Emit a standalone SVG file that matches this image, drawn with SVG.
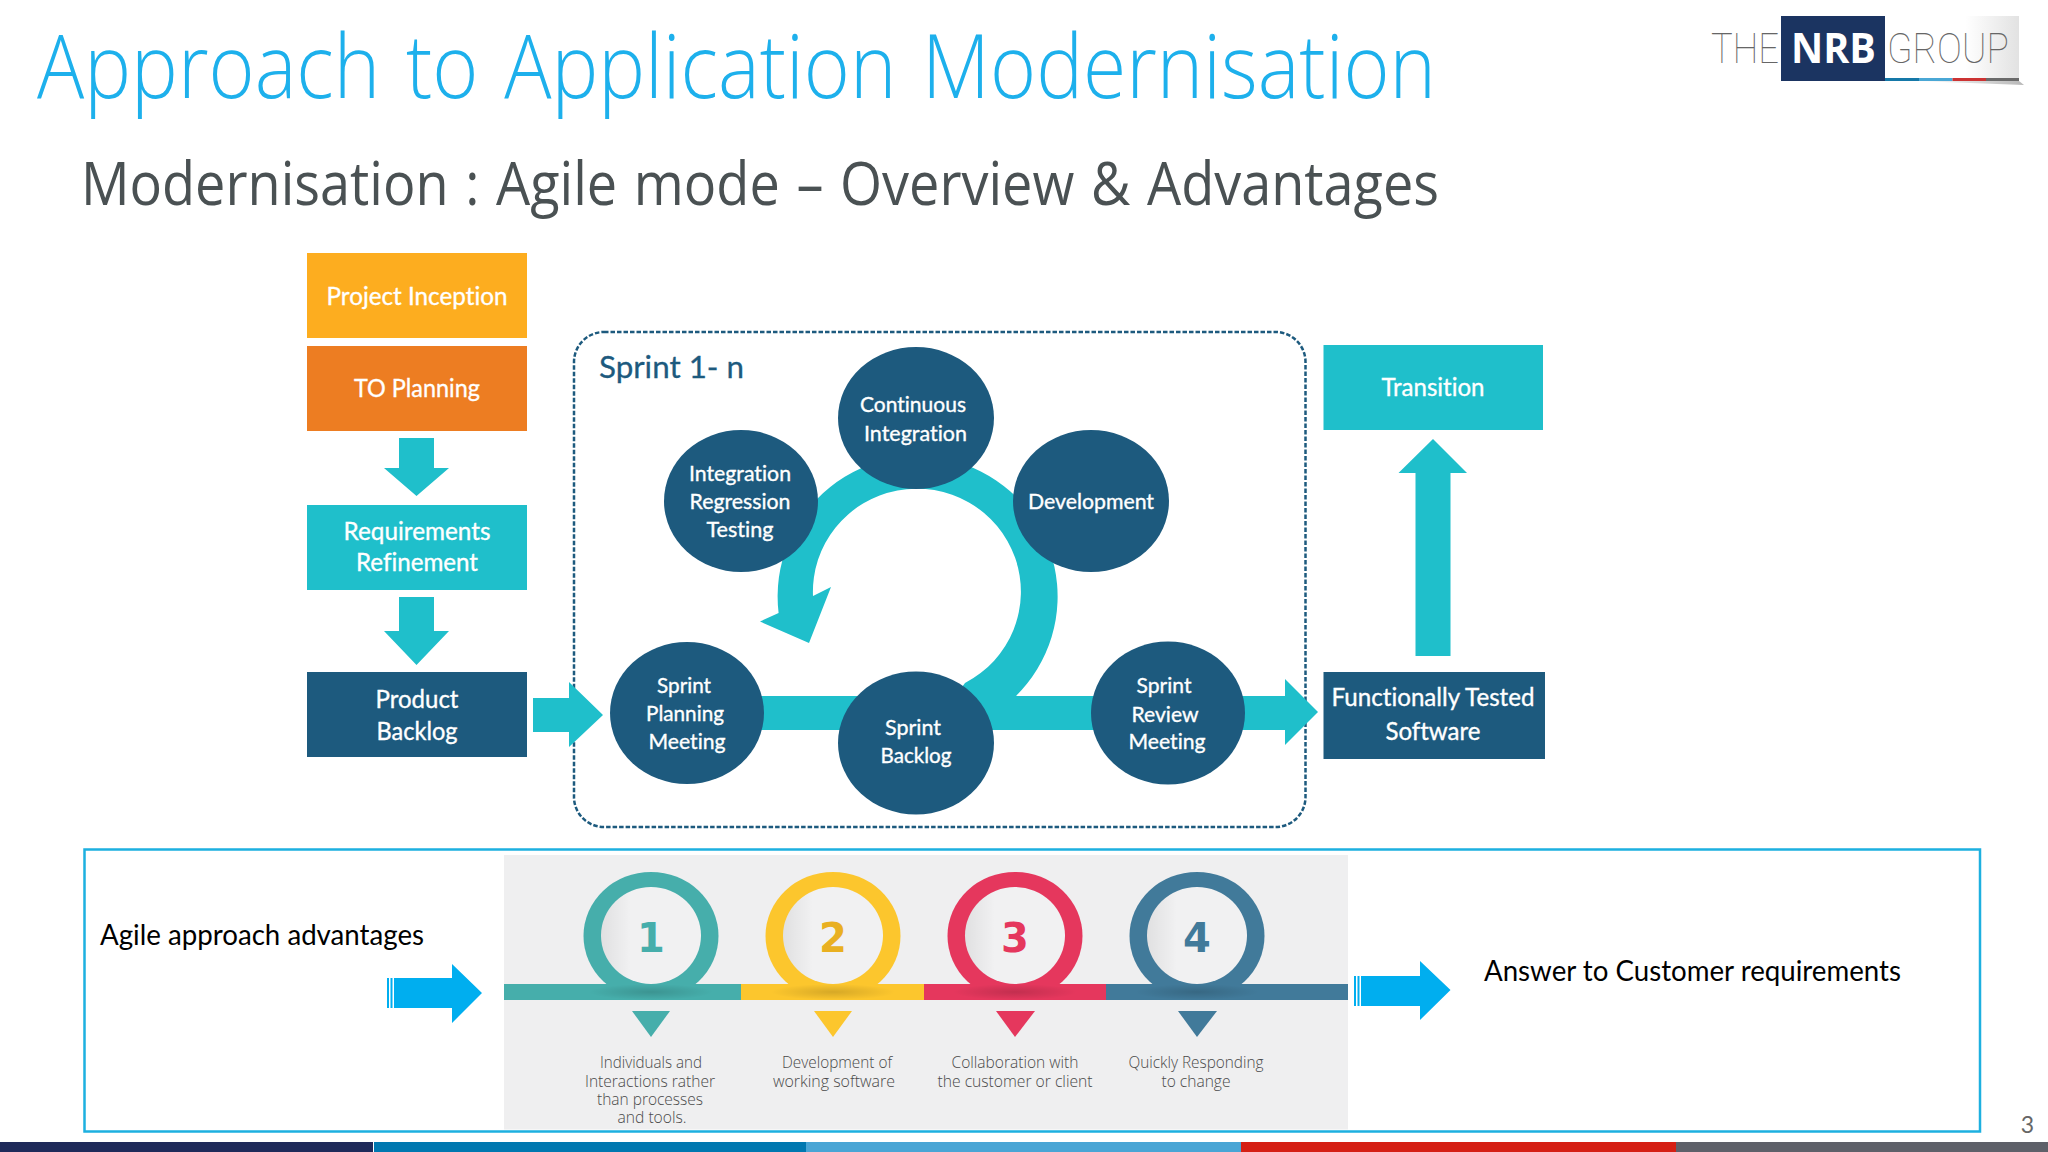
<svg xmlns="http://www.w3.org/2000/svg" width="2048" height="1152" viewBox="0 0 2048 1152">
<style>
text{font-family:"Lato","Open Sans","Liberation Sans",sans-serif;font-variant-ligatures:none}
.w{fill:#fff;text-anchor:middle;stroke:#fff;stroke-width:0.35px}
.b{font-size:25px}
.c{font-size:22px}
.teal{fill:#1FBFCB}
.navy{fill:#1D5A7E}
.cap{font-size:16px;fill:#4A4A4A;text-anchor:middle;font-family:"Open Sans","Liberation Sans",sans-serif;font-weight:300}
.num{font-size:40px;font-weight:700;text-anchor:middle;font-family:"DejaVu Sans","Open Sans",sans-serif}
.inner{fill:#F1F1F2}
.blk{font-size:29px;fill:#000}
.lg{font-size:42px;fill:#666;font-family:"Roboto","Lato",sans-serif;font-weight:100}
.head{font-family:"Open Sans","Liberation Sans",sans-serif}
</style>
<defs>
<linearGradient id="lg" x1="0" x2="1" y1="0" y2="0"><stop offset="0" stop-color="#fff"/><stop offset="0.6" stop-color="#fff"/><stop offset="1" stop-color="#E2E2E2"/></linearGradient>
<linearGradient id="sh" x1="0" x2="1" y1="0" y2="0"><stop offset="0" stop-color="#000" stop-opacity="0.07"/><stop offset="0.3" stop-color="#000" stop-opacity="0"/></linearGradient>
<radialGradient id="bs" cx="0.5" cy="0.5" r="0.5"><stop offset="0" stop-color="#000" stop-opacity="0.15"/><stop offset="1" stop-color="#000" stop-opacity="0"/></radialGradient>
<linearGradient id="ls" x1="0" x2="1" y1="0" y2="0"><stop offset="0" stop-color="#999" stop-opacity="0"/><stop offset="1" stop-color="#888" stop-opacity="0.6"/></linearGradient>
</defs>
<rect width="2048" height="1152" fill="#fff"/>

<text class="head" x="37" y="97.500" font-size="88" font-weight="300" fill="#1DB0EC" word-spacing="6" textLength="1399" lengthAdjust="spacingAndGlyphs">Approach to Application Modernisation</text>
<text class="head" x="81" y="205" font-size="61" fill="#4A5153" word-spacing="3" textLength="1358" lengthAdjust="spacingAndGlyphs">Modernisation : Agile mode – Overview &amp; Advantages</text>

<g id="logo">
<polygon points="1915,81 2019,81 2024,85" fill="url(#ls)"/>
<rect x="1885" y="16" width="134" height="65" fill="url(#lg)"/>
<rect x="1781" y="16" width="104" height="65" fill="#1B3461"/>
<rect x="1885" y="78" width="34" height="3" fill="#1578A8"/>
<rect x="1919" y="78" width="33.500" height="3" fill="#4AA7D5"/>
<rect x="1952.500" y="78" width="33.500" height="3" fill="#CC3333"/>
<rect x="1986" y="78" width="33" height="3" fill="#6A6A6A"/>
<text class="lg" x="1711" y="63" textLength="68" lengthAdjust="spacingAndGlyphs">THE</text>
<text x="1791" y="63" font-size="42" font-weight="700" fill="#fff" textLength="85" lengthAdjust="spacingAndGlyphs" style="font-family:'Open Sans','Liberation Sans',sans-serif">NRB</text>
<text class="lg" x="1887" y="63" textLength="122" lengthAdjust="spacingAndGlyphs">GROUP</text>
</g>

<g id="sprint-frame">
<rect x="574" y="332" width="731.500" height="495" rx="30" ry="30" fill="#fff" stroke="#1D5A7E" stroke-width="2.500" stroke-dasharray="4.500 2"/>
<text x="599" y="378" font-size="31" fill="#1D5A7E" stroke="#1D5A7E" stroke-width="0.3" textLength="145" lengthAdjust="spacingAndGlyphs">Sprint 1- n</text>
</g>

<g id="connectors">
<polygon class="teal" points="399,438 434,438 434,468 449,468 416.500,496 384,468 399,468"/>
<polygon class="teal" points="399,597 434,597 434,631 449,631 416.500,665 384,631 399,631"/>
<polygon class="teal" points="533,698 569,698 569,682 603,715 569,747 569,732 533,732"/>
<polygon class="teal" points="687,696 1285,696 1285,679 1318,712 1285,745 1285,730 687,730"/>
<path class="teal" d="M1015 697A140 140 0 1 0 778.600 613L760 621.500L809 643L831 587L813 596A104 103 0 1 1 965 683L945 710H1015Z"/>
<polygon class="teal" points="1415.500,656 1415.500,473 1398.500,473 1433,439 1467,473 1450.500,473 1450.500,656"/>
</g>

<g id="project-inception"><rect x="307" y="253" width="220" height="85" fill="#FDAD1F"/><text class="w b" x="417" y="305" textLength="181" lengthAdjust="spacingAndGlyphs">Project Inception</text></g>
<g id="to-planning"><rect x="307" y="346" width="220" height="85" fill="#ED7D22"/><text class="w b" x="417" y="397" textLength="126" lengthAdjust="spacingAndGlyphs">TO Planning</text></g>
<g id="requirements-refinement"><rect class="teal" x="307" y="505" width="220" height="85"/><text class="w b" x="417" y="539.500" textLength="147" lengthAdjust="spacingAndGlyphs">Requirements</text><text class="w b" x="417" y="571" textLength="122" lengthAdjust="spacingAndGlyphs">Refinement</text></g>
<g id="product-backlog"><rect class="navy" x="307" y="672" width="220" height="85"/><text class="w b" x="417" y="708" textLength="83" lengthAdjust="spacingAndGlyphs">Product</text><text class="w b" x="417" y="740" textLength="81" lengthAdjust="spacingAndGlyphs">Backlog</text></g>

<g id="integration-regression-testing"><ellipse class="navy" cx="741" cy="501" rx="77" ry="71"/><text class="w c" x="740" y="481" textLength="102" lengthAdjust="spacingAndGlyphs">Integration</text><text class="w c" x="740" y="509" textLength="101" lengthAdjust="spacingAndGlyphs">Regression</text><text class="w c" x="740" y="536.500" textLength="67" lengthAdjust="spacingAndGlyphs">Testing</text></g>
<g id="continuous-integration"><ellipse class="navy" cx="916" cy="418" rx="78" ry="71"/><text class="w c" x="913" y="412" textLength="106" lengthAdjust="spacingAndGlyphs">Continuous</text><text class="w c" x="915.500" y="441" textLength="103" lengthAdjust="spacingAndGlyphs">Integration</text></g>
<g id="development"><ellipse class="navy" cx="1091" cy="501" rx="78" ry="71"/><text class="w c" x="1091" y="509" textLength="126" lengthAdjust="spacingAndGlyphs">Development</text></g>
<g id="sprint-planning-meeting"><ellipse class="navy" cx="687" cy="713" rx="77" ry="71"/><text class="w c" x="684" y="693" textLength="54" lengthAdjust="spacingAndGlyphs">Sprint</text><text class="w c" x="685" y="721" textLength="78" lengthAdjust="spacingAndGlyphs">Planning</text><text class="w c" x="687" y="748.500" textLength="77" lengthAdjust="spacingAndGlyphs">Meeting</text></g>
<g id="sprint-backlog"><ellipse class="navy" cx="916" cy="743" rx="78" ry="71.500"/><text class="w c" x="913" y="735" textLength="56" lengthAdjust="spacingAndGlyphs">Sprint</text><text class="w c" x="916" y="763" textLength="71" lengthAdjust="spacingAndGlyphs">Backlog</text></g>
<g id="sprint-review-meeting"><ellipse class="navy" cx="1168" cy="713" rx="77" ry="71.500"/><text class="w c" x="1164" y="692.500" textLength="55" lengthAdjust="spacingAndGlyphs">Sprint</text><text class="w c" x="1165" y="721.500" textLength="67" lengthAdjust="spacingAndGlyphs">Review</text><text class="w c" x="1167" y="748.500" textLength="77" lengthAdjust="spacingAndGlyphs">Meeting</text></g>

<g id="transition"><rect class="teal" x="1323.500" y="345" width="219.500" height="85"/><text class="w b" x="1433" y="396" textLength="103" lengthAdjust="spacingAndGlyphs">Transition</text></g>
<g id="functionally-tested-software"><rect class="navy" x="1323.500" y="672" width="221.500" height="87"/><text class="w b" x="1433" y="706" textLength="203" lengthAdjust="spacingAndGlyphs">Functionally Tested</text><text class="w b" x="1433" y="740" textLength="95" lengthAdjust="spacingAndGlyphs">Software</text></g>

<g id="advantages-panel">
<rect x="84.500" y="849.500" width="1895.500" height="282" fill="#fff" stroke="#1DB0E0" stroke-width="2.500"/>
<rect x="504" y="855" width="844" height="274.500" fill="#EFEFF0"/>
<text class="blk" x="100" y="944.500" textLength="324" lengthAdjust="spacingAndGlyphs">Agile approach advantages</text>
<text class="blk" x="1484" y="980.500" textLength="417" lengthAdjust="spacingAndGlyphs">Answer to Customer requirements</text>
<polygon fill="#00AEEF" points="394,978 452,978 452,964 482,993 452,1023 452,1008 394,1008"/>
<rect x="387" y="978" width="2" height="30" fill="#00AEEF"/><rect x="390.500" y="978" width="2" height="30" fill="#00AEEF"/>
<polygon fill="#00AEEF" points="1361,976 1420,976 1420,961 1450.500,990 1420,1020 1420,1006 1361,1006"/>
<rect x="1354" y="976" width="2" height="30" fill="#00AEEF"/><rect x="1357.500" y="976" width="2" height="30" fill="#00AEEF"/>
</g>

<g id="advantage-1">
<ellipse cx="651" cy="936" rx="67.500" ry="64" fill="#46AEAB"/><rect x="504" y="984" width="237" height="16" fill="#46AEAB"/>
<ellipse cx="651" cy="992" rx="62" ry="8" fill="url(#bs)"/>
<ellipse class="inner" cx="651" cy="935.500" rx="50" ry="48.500"/><ellipse cx="651" cy="935.500" rx="50" ry="48.500" fill="url(#sh)"/>
<text class="num" x="651" y="952" fill="#46AEAB">1</text>
<polygon points="632,1011 670,1011 651,1037" fill="#46AEAB"/>
<text class="cap" x="651" y="1068" textLength="102" lengthAdjust="spacingAndGlyphs">Individuals and</text>
<text class="cap" x="650" y="1087" textLength="130" lengthAdjust="spacingAndGlyphs">Interactions rather</text>
<text class="cap" x="650" y="1105" textLength="106" lengthAdjust="spacingAndGlyphs">than processes</text>
<text class="cap" x="652" y="1123" textLength="69" lengthAdjust="spacingAndGlyphs">and tools.</text>
</g>
<g id="advantage-2">
<ellipse cx="833" cy="936" rx="67.500" ry="64" fill="#FCC62D"/><rect x="741" y="984" width="183" height="16" fill="#FCC62D"/>
<ellipse cx="833" cy="992" rx="62" ry="8" fill="url(#bs)"/>
<ellipse class="inner" cx="833" cy="935.500" rx="50" ry="48.500"/><ellipse cx="833" cy="935.500" rx="50" ry="48.500" fill="url(#sh)"/>
<text class="num" x="833" y="952" fill="#E9B021">2</text>
<polygon points="814,1011 852,1011 833,1037" fill="#FCC62D"/>
<text class="cap" x="837" y="1068" textLength="110" lengthAdjust="spacingAndGlyphs">Development of</text>
<text class="cap" x="834" y="1087" textLength="122" lengthAdjust="spacingAndGlyphs">working software</text>
</g>
<g id="advantage-3">
<ellipse cx="1015" cy="936" rx="67.500" ry="64" fill="#E5375D"/><rect x="924" y="984" width="182" height="16" fill="#E5375D"/>
<ellipse cx="1015" cy="992" rx="62" ry="8" fill="url(#bs)"/>
<ellipse class="inner" cx="1015" cy="935.500" rx="50" ry="48.500"/><ellipse cx="1015" cy="935.500" rx="50" ry="48.500" fill="url(#sh)"/>
<text class="num" x="1015" y="952" fill="#E5375D">3</text>
<polygon points="996,1011 1035,1011 1015,1037" fill="#E5375D"/>
<text class="cap" x="1015" y="1068" textLength="127" lengthAdjust="spacingAndGlyphs">Collaboration with</text>
<text class="cap" x="1015" y="1087" textLength="155" lengthAdjust="spacingAndGlyphs">the customer or client</text>
</g>
<g id="advantage-4">
<ellipse cx="1197" cy="936" rx="67.500" ry="64" fill="#417A9A"/><rect x="1106" y="984" width="242" height="16" fill="#417A9A"/>
<ellipse cx="1197" cy="992" rx="62" ry="8" fill="url(#bs)"/>
<ellipse class="inner" cx="1197" cy="935.500" rx="50" ry="48.500"/><ellipse cx="1197" cy="935.500" rx="50" ry="48.500" fill="url(#sh)"/>
<text class="num" x="1197" y="952" fill="#417A9A">4</text>
<polygon points="1178,1011 1217,1011 1197,1037" fill="#417A9A"/>
<text class="cap" x="1196" y="1068" textLength="135" lengthAdjust="spacingAndGlyphs">Quickly Responding</text>
<text class="cap" x="1196" y="1087" textLength="69" lengthAdjust="spacingAndGlyphs">to change</text>
</g>

<g id="footer">
<rect x="0" y="1142" width="373" height="10" fill="#1F2A5A"/>
<rect x="374" y="1142" width="432" height="10" fill="#0078B0"/>
<rect x="806" y="1142" width="435" height="10" fill="#49A5D5"/>
<rect x="1241" y="1142" width="435" height="10" fill="#D51F14"/>
<rect x="1676" y="1142" width="372" height="10" fill="#5E6069"/>
<text x="2027.500" y="1133" font-size="23" fill="#666" text-anchor="middle">3</text>
</g>
</svg>
